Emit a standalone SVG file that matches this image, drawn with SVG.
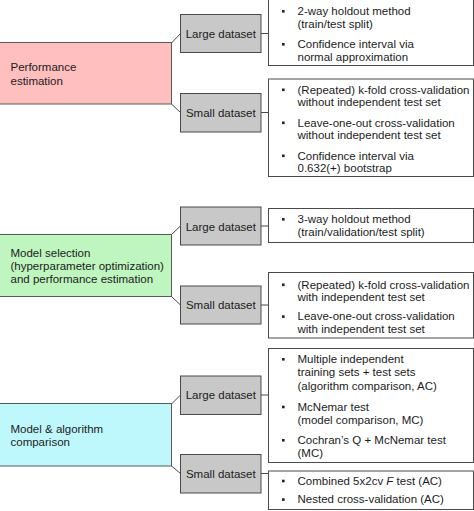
<svg xmlns="http://www.w3.org/2000/svg" width="474" height="511" viewBox="0 0 474 511">
<style>
text{font-family:"Liberation Sans",Arial,sans-serif;font-size:11.5px;fill:#1c1c1c}
.main rect{stroke:#5a5a5a;stroke-width:1}
.cat rect{fill:#c8c8c8;stroke:#4a4a4a;stroke-width:1}
.cat text{text-anchor:middle}
.list rect.box{fill:#fff;stroke:#4a4a4a;stroke-width:1}
.list rect.b{fill:#222;stroke:none}
#connectors path{fill:none;stroke:#4a4a4a;stroke-width:1}
</style>
<rect width="474" height="511" fill="#fff"/>

<g id="connectors">
<path d="M171.5,43 L180.5,33.5"/>
<path d="M171.5,104 L180.5,112.5"/>
<path d="M261,33.5 H268.5"/>
<path d="M261,112.5 H268.5"/>
<path d="M171.5,234.5 L180.5,226"/>
<path d="M171.5,296.5 L180.5,305"/>
<path d="M261,226 H268.5"/>
<path d="M261,305 H268.5"/>
<path d="M171.5,404 L180.5,395"/>
<path d="M171.5,466 L180.5,473.5"/>
<path d="M261,395 H268.5"/>
<path d="M261,473.5 H268.5"/>
</g>

<g id="perf" class="main">
<rect x="-1" y="42.5" width="172.5" height="61.5" fill="#ffbfbf"/>
<text x="10.5" y="71">Performance</text>
<text x="10.5" y="84.5">estimation</text>
</g>
<g id="perf-large" class="cat">
<rect x="180.5" y="14.5" width="80.5" height="38"/>
<text x="220.8" y="37.5">Large dataset</text>
</g>
<g id="perf-small" class="cat">
<rect x="180.5" y="93.5" width="80.5" height="38.5"/>
<text x="220.8" y="116.5">Small dataset</text>
</g>
<g id="perf-large-list" class="list">
<rect class="box" x="268.5" y="-5" width="205" height="70.5"/>
<rect class="b" x="282" y="10" width="2.6" height="2.6"/>
<text x="297.5" y="15">2-way holdout method</text>
<text x="297.5" y="28">(train/test split)</text>
<rect class="b" x="282" y="43" width="2.6" height="2.6"/>
<text x="297.5" y="48">Confidence interval via</text>
<text x="297.5" y="61">normal approximation</text>
</g>
<g id="perf-small-list" class="list">
<rect class="box" x="268.5" y="79" width="205" height="97.5"/>
<rect class="b" x="282" y="88.5" width="2.6" height="2.6"/>
<text x="297.5" y="93.5">(Repeated) k-fold cross-validation</text>
<text x="297.5" y="106.3">without independent test set</text>
<rect class="b" x="282" y="121.5" width="2.6" height="2.6"/>
<text x="297.5" y="126.5">Leave-one-out cross-validation</text>
<text x="297.5" y="139.3">without independent test set</text>
<rect class="b" x="282" y="154.5" width="2.6" height="2.6"/>
<text x="297.5" y="159.5">Confidence interval via</text>
<text x="297.5" y="172.3">0.632(+) bootstrap</text>
</g>

<g id="sel" class="main">
<rect x="-1" y="234.5" width="172.5" height="62" fill="#bff5bf"/>
<text x="10.5" y="256.5">Model selection</text>
<text x="10.5" y="269.8">(hyperparameter optimization)</text>
<text x="10.5" y="282.5">and performance estimation</text>
</g>
<g id="sel-large" class="cat">
<rect x="180.5" y="207" width="80.5" height="38"/>
<text x="220.8" y="230.5">Large dataset</text>
</g>
<g id="sel-small" class="cat">
<rect x="180.5" y="286" width="80.5" height="38"/>
<text x="220.8" y="309">Small dataset</text>
</g>
<g id="sel-large-list" class="list">
<rect class="box" x="268.5" y="208.5" width="205" height="34"/>
<rect class="b" x="282" y="218" width="2.6" height="2.6"/>
<text x="297.5" y="223">3-way holdout method</text>
<text x="297.5" y="235.5">(train/validation/test split)</text>
</g>
<g id="sel-small-list" class="list">
<rect class="box" x="268.5" y="272.5" width="205" height="65.5"/>
<rect class="b" x="282" y="283.5" width="2.6" height="2.6"/>
<text x="297.5" y="288.5">(Repeated) k-fold cross-validation</text>
<text x="297.5" y="300.5">with independent test set</text>
<rect class="b" x="282" y="315.3" width="2.6" height="2.6"/>
<text x="297.5" y="320.3">Leave-one-out cross-validation</text>
<text x="297.5" y="332.6">with independent test set</text>
</g>

<g id="comp" class="main">
<rect x="-1" y="403.5" width="172.5" height="62.5" fill="#bff8fc"/>
<text x="10.5" y="432.5">Model &amp; algorithm</text>
<text x="10.5" y="446.3">comparison</text>
</g>
<g id="comp-large" class="cat">
<rect x="180.5" y="376" width="80.5" height="38.5"/>
<text x="220.8" y="399.3">Large dataset</text>
</g>
<g id="comp-small" class="cat">
<rect x="180.5" y="454.5" width="80.5" height="38.5"/>
<text x="220.8" y="478">Small dataset</text>
</g>
<g id="comp-large-list" class="list">
<rect class="box" x="268.5" y="348.5" width="205" height="114"/>
<rect class="b" x="282" y="358" width="2.6" height="2.6"/>
<text x="297.5" y="363">Multiple independent</text>
<text x="297.5" y="376.3">training sets + test sets</text>
<text x="297.5" y="389.7">(algorithm comparison, AC)</text>
<rect class="b" x="282" y="405.7" width="2.6" height="2.6"/>
<text x="297.5" y="410.7">McNemar test</text>
<text x="297.5" y="424">(model comparison, MC)</text>
<rect class="b" x="282" y="439" width="2.6" height="2.6"/>
<text x="297.5" y="444">Cochran’s Q + McNemar test</text>
<text x="297.5" y="456.5">(MC)</text>
</g>
<g id="comp-small-list" class="list">
<rect class="box" x="268.5" y="471" width="205" height="38.5"/>
<rect class="b" x="282" y="479.7" width="2.6" height="2.6"/>
<text x="297.5" y="484.7">Combined 5x2cv <tspan font-style="italic">F</tspan> test (AC)</text>
<rect class="b" x="282" y="498.3" width="2.6" height="2.6"/>
<text x="297.5" y="503.3">Nested cross-validation (AC)</text>
</g>
</svg>
